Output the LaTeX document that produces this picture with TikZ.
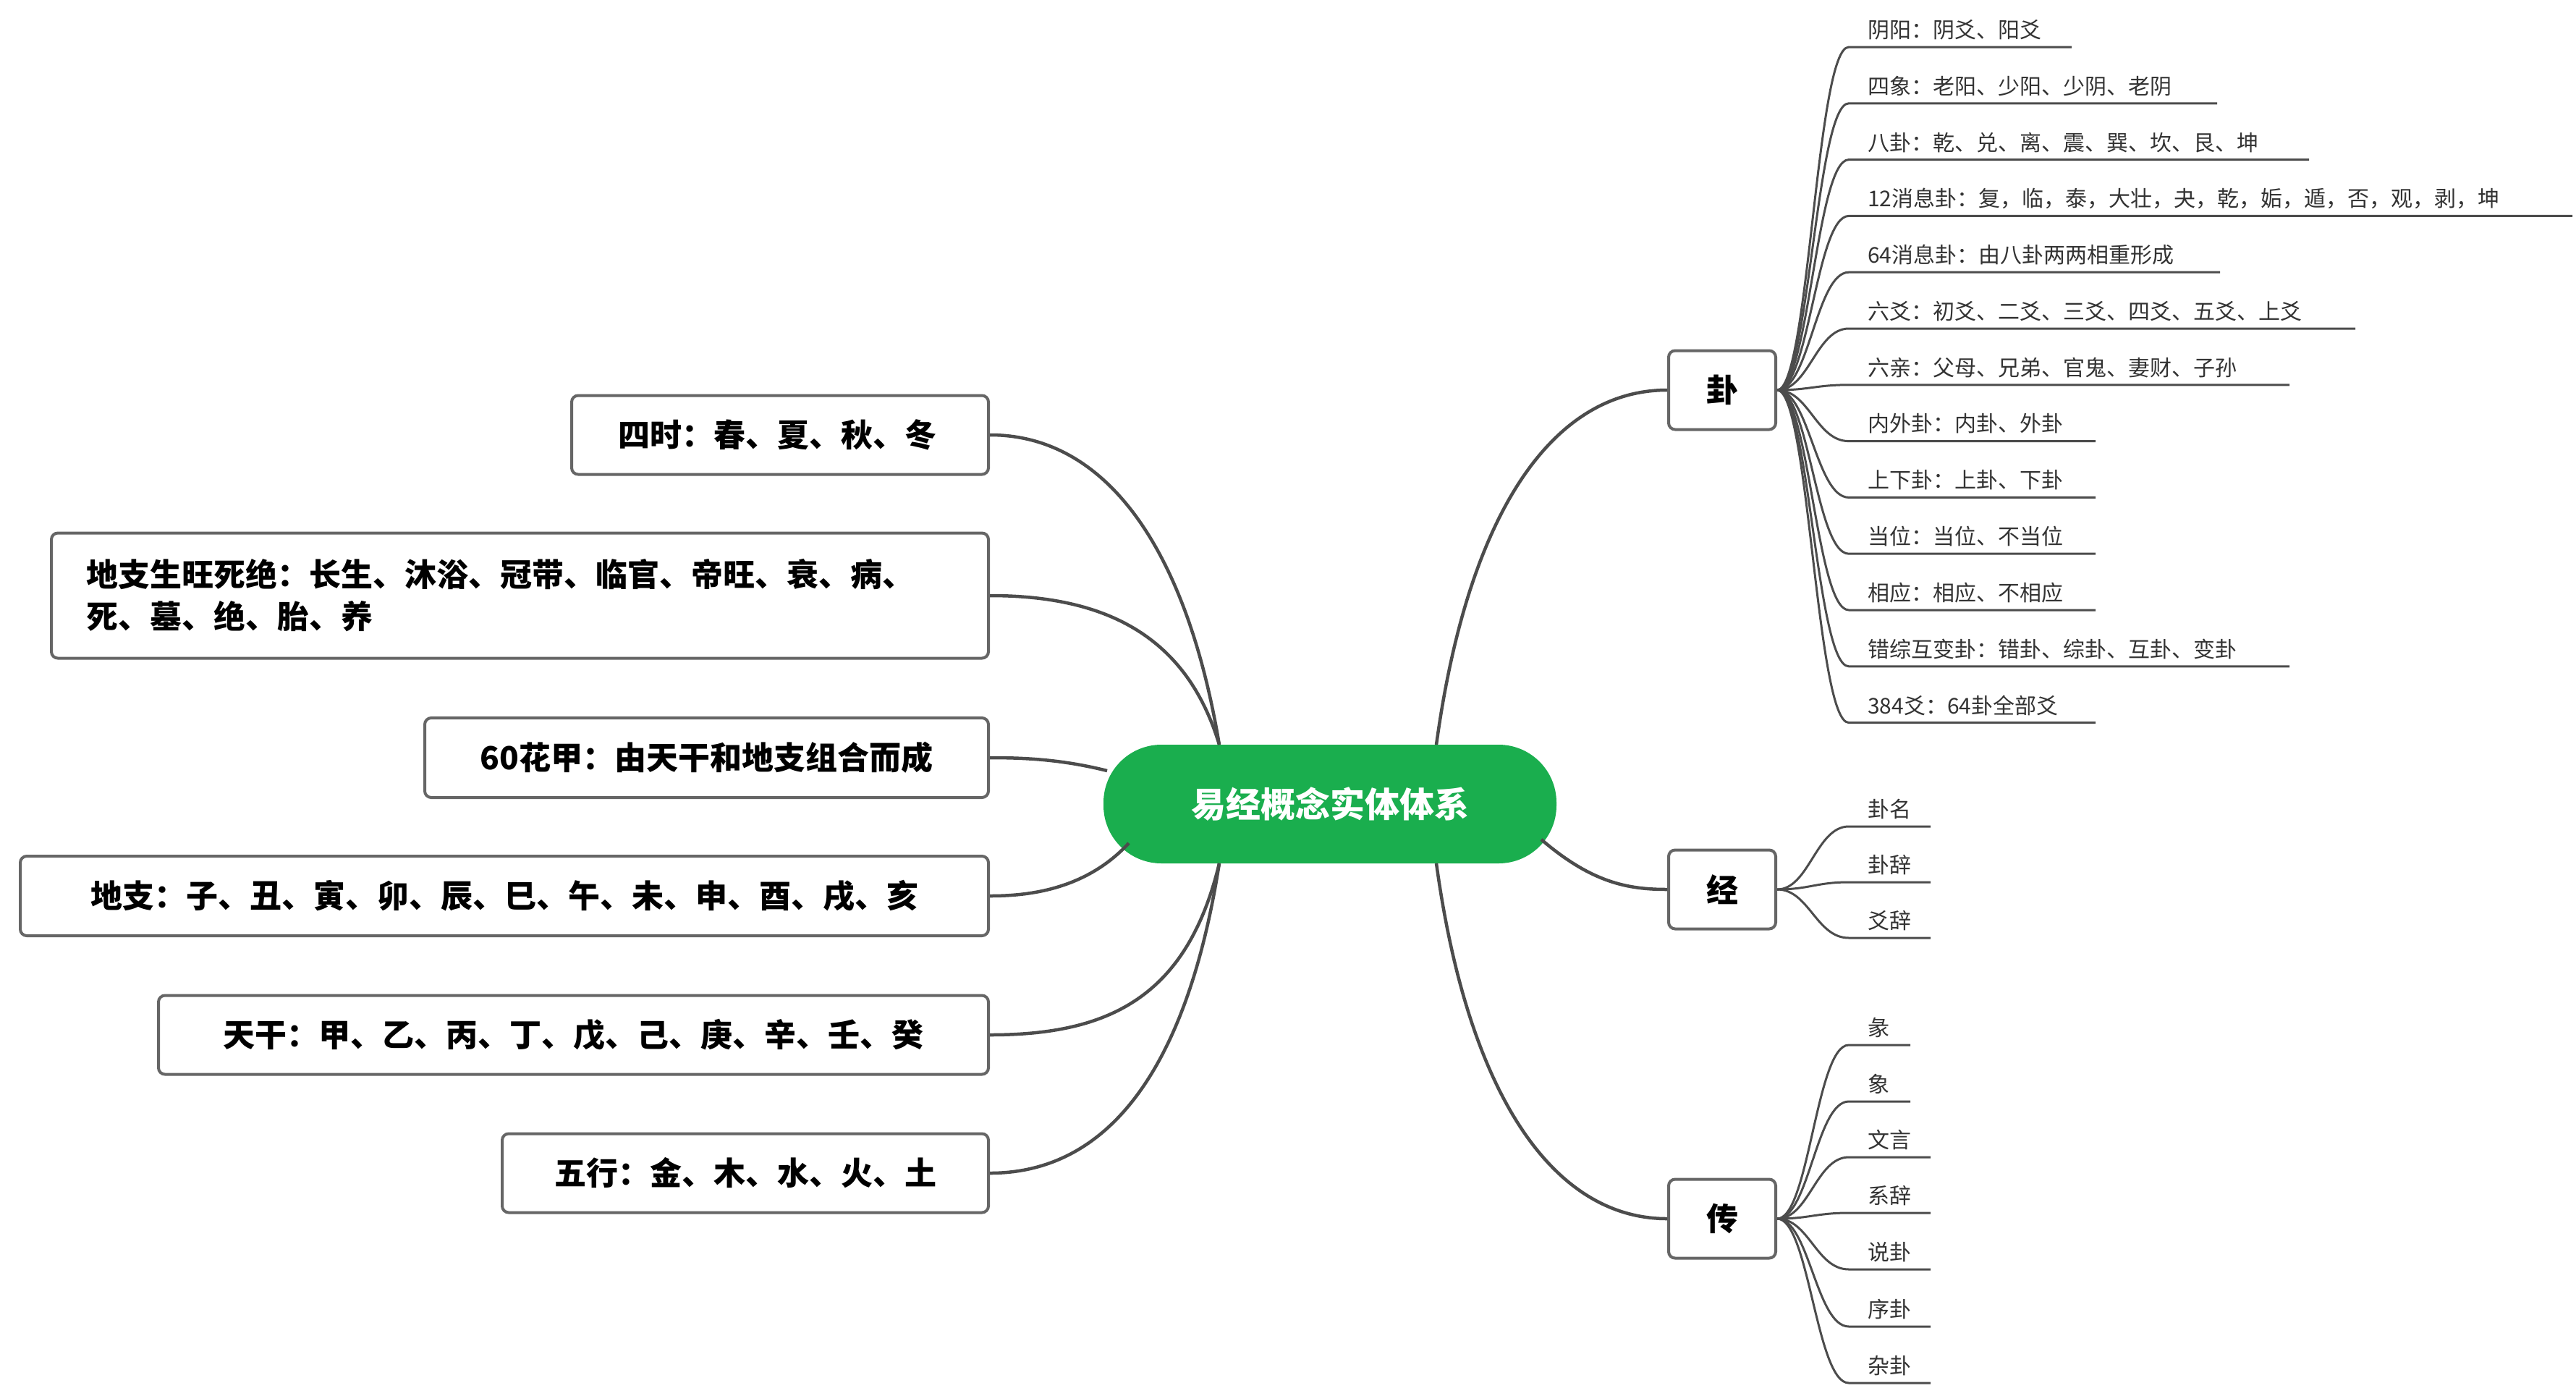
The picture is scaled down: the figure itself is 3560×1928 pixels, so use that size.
\documentclass[tikz,border=0pt]{standalone}
\usepackage{fontspec}
\setmainfont{Noto Sans CJK SC}
\begin{document}
\begin{tikzpicture}[x=1pt,y=-1pt,
  conn/.style={draw=black!70,line width=4.5pt},
  leafln/.style={draw=black!70,line width=3pt},
  lbox/.style={draw=black!60,line width=4pt,rounded corners=9pt,fill=white,font=\fontsize{44}{58}\selectfont\bfseries,align=left,inner sep=0pt,anchor=east},
  rbox/.style={draw=black!60,line width=4pt,rounded corners=9pt,fill=white,font=\fontsize{44}{52}\selectfont\bfseries,minimum width=148pt,minimum height=109pt,inner sep=0pt},
  leaf/.style={font=\fontsize{30}{36}\selectfont,anchor=west,inner sep=0pt,text=black!80}]
\useasboundingbox (0,0) rectangle (3560,1928);
\definecolor{grn}{HTML}{1AAE4E}
\node[fill=grn,text=white,rounded corners=80pt,minimum width=626pt,minimum height=164pt,font=\fontsize{48}{56}\selectfont\bfseries] (c) at (1838,1111) {易经概念实体体系};
% left boxes
\node[lbox,minimum width=576pt,minimum height=109pt] (L1) at (1368,601) {\hspace*{40pt}四时：春、夏、秋、冬\hspace*{48pt}};
\node[lbox,text width=1295pt,minimum height=173pt] (L2) at (1368,823) {\hspace*{48pt}地支生旺死绝：长生、沐浴、冠带、临官、帝旺、衰、病、\\\hspace*{48pt}死、墓、绝、胎、养};
\node[lbox,minimum width=779pt,minimum height=110pt] (L3) at (1368,1047) {\hspace*{48pt}60花甲：由天干和地支组合而成\hspace*{48pt}};
\node[lbox,minimum width=1338pt,minimum height=110pt] (L4) at (1368,1238) {\hspace*{48pt}地支：子、丑、寅、卯、辰、巳、午、未、申、酉、戌、亥\hspace*{48pt}};
\node[lbox,minimum width=1147pt,minimum height=109pt] (L5) at (1368,1430) {\hspace*{48pt}天干：甲、乙、丙、丁、戊、己、庚、辛、壬、癸\hspace*{48pt}};
\node[lbox,minimum width=672pt,minimum height=109pt] (L6) at (1368,1621) {\hspace*{48pt}五行：金、木、水、火、土\hspace*{48pt}};
\coordinate (ct) at (1685,1029);
\coordinate (cb) at (1685,1193);
\coordinate (cl) at (1530,1065);
\coordinate (clb) at (1560,1165);
\draw[conn] (ct) .. controls (1640,760) and (1530,601) .. (L1.east);
\draw[conn] (ct) .. controls (1640,880) and (1530,823) .. (L2.east);
\draw[conn] (cl) .. controls (1470,1050) and (1420,1047) .. (L3.east);
\draw[conn] (clb) .. controls (1500,1230) and (1420,1238) .. (L4.east);
\draw[conn] (cb) .. controls (1640,1380) and (1530,1430) .. (L5.east);
\draw[conn] (cb) .. controls (1640,1480) and (1530,1621) .. (L6.east);
% right boxes
\node[rbox] (G) at (2380,539) {卦};
\node[rbox] (J) at (2380,1229) {经};
\node[rbox] (Z) at (2380,1684) {传};
\coordinate (rt) at (1985,1029);
\coordinate (rm) at (2130,1160);
\coordinate (rb) at (1985,1193);
\draw[conn] (rt) .. controls (2030,700) and (2150,539) .. (G.west);
\draw[conn] (rm) .. controls (2200,1220) and (2250,1229) .. (J.west);
\draw[conn] (rb) .. controls (2030,1520) and (2150,1684) .. (Z.west);
% leaves of 卦
\foreach \i/\t/\e in {0/阴阳：阴爻、阳爻/2863, 1/四象：老阳、少阳、少阴、老阴/3064, 2/八卦：乾、兑、离、震、巽、坎、艮、坤/3191, 3/12消息卦：复，临，泰，大壮，夬，乾，姤，遁，否，观，剥，坤/3555, 4/64消息卦：由八卦两两相重形成/3068, 5/六爻：初爻、二爻、三爻、四爻、五爻、上爻/3255, 6/六亲：父母、兄弟、官鬼、妻财、子孙/3164, 7/内外卦：内卦、外卦/2896, 8/上下卦：上卦、下卦/2896, 9/当位：当位、不当位/2896, 10/相应：相应、不相应/2896, 11/错综互变卦：错卦、综卦、互卦、变卦/3164, 12/384爻：64卦全部爻/2896}{
  \pgfmathsetmacro{\yy}{41+77.8*\i}
  \node[leaf] (g\i) at (2581,\yy) {\t};
  \coordinate (ge\i) at (\e,\yy+24);
  \draw[leafln] (G.east) .. controls (2500,539) and (2510,\yy+24) .. (2555,\yy+24) -- (ge\i);
}
% leaves of 经
\foreach \i/\t/\y in {0/卦名/1118, 1/卦辞/1195, 2/爻辞/1272}{
  \node[leaf] (j\i) at (2581,\y) {\t};
  \coordinate (je\i) at (2668,\y+24);
  \draw[leafln] (J.east) .. controls (2500,1229) and (2510,\y+24) .. (2555,\y+24) -- (je\i);
}
% leaves of 传
\foreach \i/\t/\y/\e in {0/彖/1420/2640, 1/象/1498/2640, 2/文言/1575/2668, 3/系辞/1652/2668, 4/说卦/1730/2668, 5/序卦/1809/2668, 6/杂卦/1887/2668}{
  \node[leaf] (z\i) at (2581,\y) {\t};
  \coordinate (ze\i) at (\e,\y+24);
  \draw[leafln] (Z.east) .. controls (2500,1684) and (2510,\y+24) .. (2555,\y+24) -- (ze\i);
}
\end{tikzpicture}
\end{document}
